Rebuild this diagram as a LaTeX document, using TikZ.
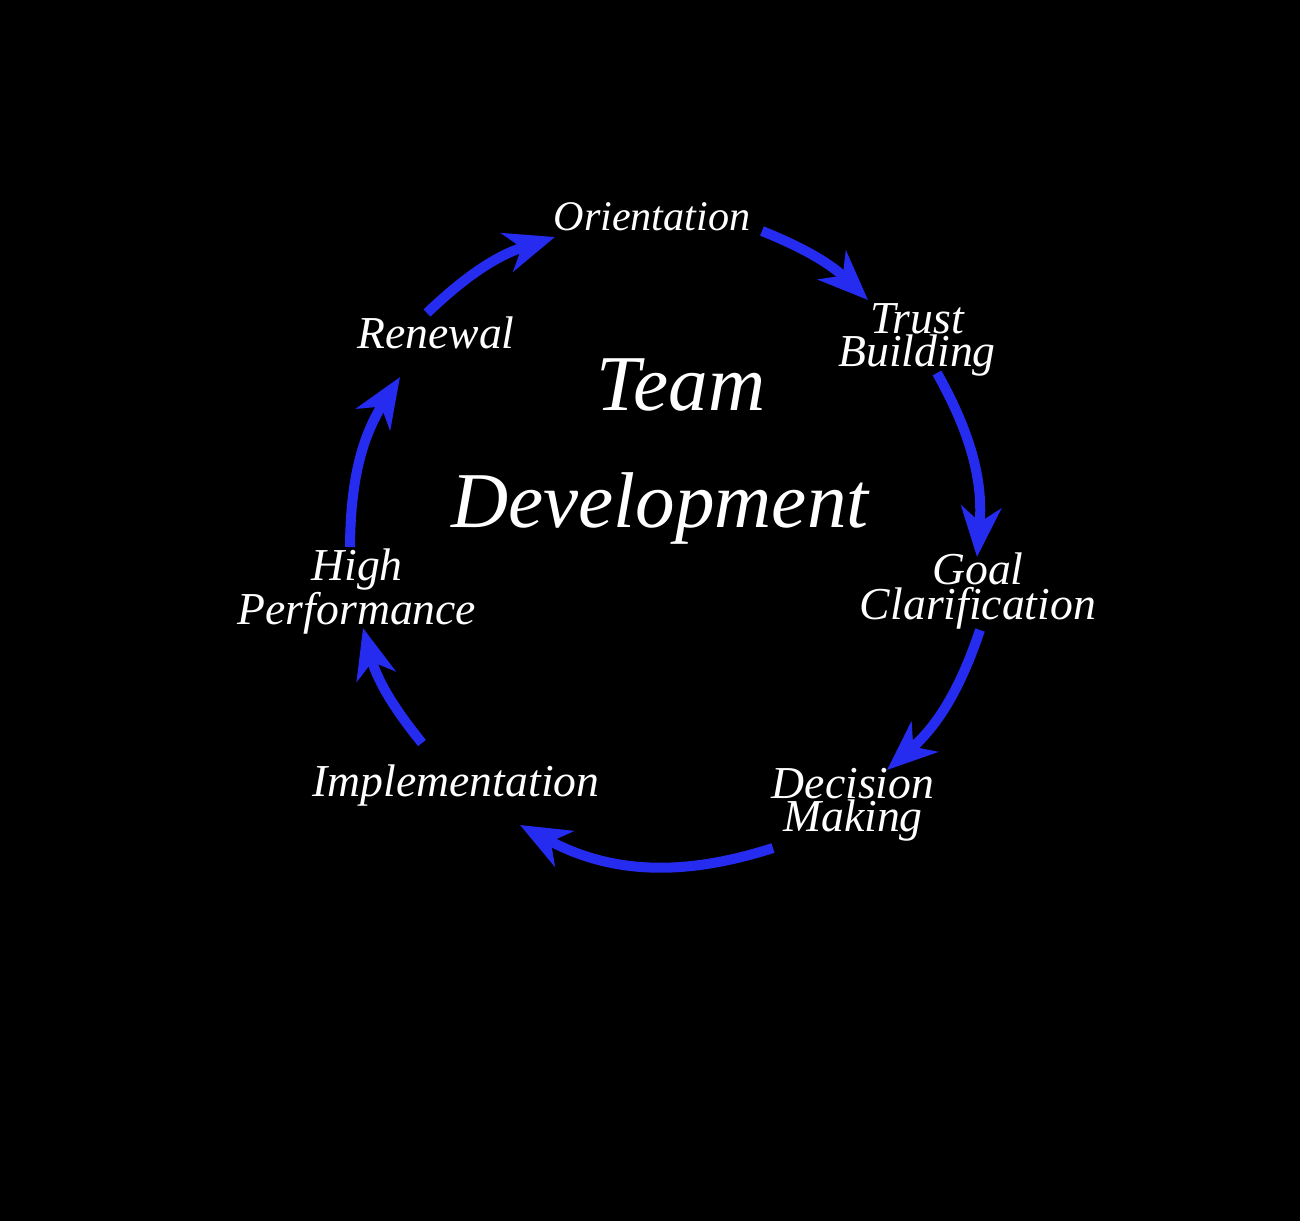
\documentclass[tikz,border=0pt]{standalone}
\usepackage{fontspec}
\setmainfont{Liberation Serif}
\usetikzlibrary{arrows.meta,calc}
\definecolor{cycleblue}{RGB}{38,43,240}
\begin{document}
\begin{tikzpicture}[x=0.02cm,y=-0.02cm,line cap=butt,>={Stealth[length=1cm,width=0.8cm,inset=0.3cm]},
  step label/.style={text=white,font=\fontsize{26}{18.5}\selectfont\itshape,align=center,anchor=base,inner sep=0pt},
  title label/.style={text=white,font=\fontsize{45}{50}\selectfont\itshape,anchor=base,inner sep=0pt},
  cycle arrow/.style={->,draw=cycleblue,line width=0.2cm}]
\fill[black] (0,0) rectangle (1300,1221);
\useasboundingbox (0,0) rectangle (1300,1221);
\node[title label] (team) at (681,410) {Team};
\node[title label] (dev) at (660,527) {Development};
\node[step label,font=\fontsize{24}{18.5}\selectfont\itshape] (orient) at (652,230) {Orientation};
\node[step label] (trust) at (917,366) {Trust\\Building};
\node[step label] (goal) at (978,619) {Goal\\Clarification};
\node[step label] (decide) at (853,831) {Decision\\Making};
\node[step label] (impl) at (456,796) {Implementation};
\node[step label] (high) at (357,624) {High\\Performance};
\node[step label] (renew) at (436,348) {Renewal};
\draw[cycle arrow] ($(orient.base)+(110,1)$) to[bend left=11] ($(trust.base)+(-49,-66)$);
\draw[cycle arrow] ($(trust.base)+(20,7)$) to[bend left=17] ($(goal.base)+(-1,-62)$);
\draw[cycle arrow] ($(goal.base)+(2,11)$) to[bend left=15] ($(decide.base)+(34,-61)$);
\draw[cycle arrow] ($(decide.base)+(-80,17)$) to[bend left=23] ($(impl.base)+(64,29)$);
\draw[cycle arrow] ($(impl.base)+(-34,-53)$) to[bend left=12] ($(high.base)+(6,4)$);
\draw[cycle arrow] ($(high.base)+(-7,-77)$) to[bend left=16] ($(renew.base)+(-36,29)$);
\draw[cycle arrow] ($(renew.base)+(-9,-35)$) to[bend left=13] ($(orient.base)+(-97,7)$);
\end{tikzpicture}
\end{document}
